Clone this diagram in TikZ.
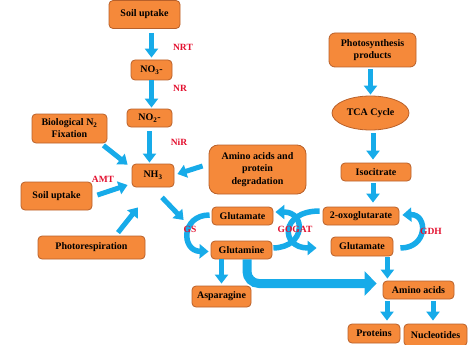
\documentclass[tikz,border=0pt]{standalone}
\usepackage{fontspec}
\setmainfont{Liberation Serif}
\usetikzlibrary{arrows.meta,shapes.geometric,calc}
\definecolor{boxfill}{HTML}{F5893A}
\definecolor{boxline}{HTML}{B8602A}
\definecolor{arrblue}{HTML}{17ABE9}
\definecolor{labred}{HTML}{E3102F}
\begin{document}
\begin{tikzpicture}[x=1pt,y=-1pt,
  box/.style={draw=boxline, fill=boxfill, line width=0.8pt, rounded corners=4pt,
    font=\fontsize{10}{12}\selectfont\bfseries, align=center, inner sep=0pt},
  arr/.style={draw=arrblue, line width=5pt, -{Triangle[length=9pt,width=13pt]}},
  carr/.style={draw=arrblue, line width=5.5pt, -{Triangle[length=9pt,width=14pt]}},
  bigarr/.style={draw=arrblue, line width=9pt, rounded corners=12pt, -{Triangle[length=12pt,width=24pt]}},
  lab/.style={text=labred, font=\fontsize{9.5}{11}\selectfont\bfseries, inner sep=0pt},
]
\useasboundingbox (0,0) rectangle (474,345);
\clip (0,0) rectangle (474,345);

% boxes
\node[box, minimum width=71pt, minimum height=28pt] (su) at (144.5,14.5) {Soil uptake};
\node[box, minimum width=41pt, minimum height=20pt] (no3) at (151.5,70) {NO\textsubscript{3}-};
\node[box, minimum width=45pt, minimum height=18pt] (no2) at (149.5,118) {NO\textsubscript{2}-};
\node[box, minimum width=42pt, minimum height=23pt] (nh3) at (153,175.5) {NH\textsubscript{3}};
\node[box, minimum width=75pt, minimum height=29pt] (bio) at (69.5,128.5) {Biological N\textsubscript{2}\\Fixation};
\node[box, minimum width=71pt, minimum height=28pt] (soilL) at (56.5,196) {Soil uptake};
\node[box, minimum width=107pt, minimum height=23pt] (photo) at (91.5,247.5) {Photorespiration};
\node[box, rounded corners=9pt, minimum width=97pt, minimum height=49pt,
      font=\fontsize{10}{12.5}\selectfont\bfseries] (deg) at (257.5,169.5) {Amino acids and\\protein\\degradation};
\node[box, minimum width=61pt, minimum height=18pt] (gluL) at (242.5,216) {Glutamate};
\node[box, minimum width=61pt, minimum height=18pt] (gluN) at (241.5,250) {Glutamine};
\node[box, minimum width=59pt, minimum height=21pt] (asp) at (221.5,296.5) {Asparagine};
\node[box, rounded corners=6pt, minimum width=87pt, minimum height=34pt] (psp) at (372.5,50) {Photosynthesis\\products};
\node[box, ellipse, minimum width=77pt, minimum height=34pt] (tca) at (370.5,113) {TCA Cycle};
\node[box, minimum width=70pt, minimum height=18pt] (iso) at (376,172) {Isocitrate};
\node[box, minimum width=76pt, minimum height=18pt] (oxo) at (361,216) {2-oxoglutarate};
\node[box, minimum width=62pt, minimum height=19pt] (gluR) at (362,246.5) {Glutamate};
\node[box, minimum width=71pt, minimum height=18pt] (amino) at (418.5,290) {Amino acids};
\node[box, minimum width=52pt, minimum height=19pt] (prot) at (374,333.5) {Proteins};
\node[box, minimum width=63pt, minimum height=22pt] (nuc) at (435.5,335) {Nucleotides};

% straight arrows
\draw[arr, shorten <=4pt, shorten >=2pt] (su.south -| no3.north) -- (no3.north);
\draw[arr, shorten >=1pt] (no3.south) -- (no3.south |- no2.north);
\draw[arr, shorten <=4pt, shorten >=1pt] (no2.south) -- (no2.south |- nh3.north);
\draw[arr] ($(bio.south east)+(-4,2)$) -- ($(nh3.north west)+(-4,1)$);
\draw[arr] ($(soilL.east)+(5,-1)$) -- ($(nh3.west)+(-4,9.5)$);
\draw[arr] ($(photo.north)+(26.5,-3)$) -- ($(nh3.south)+(-15,20)$);
\draw[arr] ($(deg.west)+(-6,-3.5)$) -- ($(nh3.east)+(3,-1.5)$);
\draw[arr] ($(nh3.south)+(9,10)$) -- ($(gluL.west)+(-28,4)$);

% GS, GOGAT, GDH
\draw[carr] ($(gluL.west)+(-2,-1)$) .. controls (181,215) and (181,251) .. ($(gluN.west)+(-2,1.5)$);
\draw[carr] ($(gluN.east)+(1,-2)$) .. controls (306,247) and (306,212) .. ($(gluL.east)+(2,-4)$);
\draw[carr] ($(oxo.west)+(-3,-5)$) .. controls (280,211) and (280,248) .. ($(gluR.west)+(-14,1.5)$);
\draw[carr] ($(gluR.east)+(7,1.5)$) .. controls (428,248) and (428,214) .. ($(oxo.east)+(3,-1)$);

% Glutamine outputs
\draw[arr, shorten >=2pt] (gluN.south -| asp.north) -- (asp.north);
\draw[bigarr] ($(gluN.south)+(5.5,0)$) |- ($(amino.west)+(-6,-6.5)$);

% right column
\draw[arr, shorten <=2pt, shorten >=1pt] (tca.north |- psp.south) -- (tca.north);
\coordinate (ti) at ($(tca.south)+(2.5,0)$);
\draw[arr, shorten <=3pt, shorten >=3pt] (ti) -- (ti |- iso.north);
\coordinate (io) at ($(iso.south)+(-3,0)$);
\draw[arr, shorten <=2pt, shorten >=4pt] (io) -- (io |- oxo.north);
\coordinate (ga) at ($(gluR.south east)+(-6,0)$);
\draw[arr, shorten <=1pt, shorten >=2pt] (ga) -- (ga |- amino.north);
\coordinate (ap) at ($(prot.north)+(13,0)$);
\draw[arr, shorten <=2pt, shorten >=3pt] (ap |- amino.south) -- (ap);
\coordinate (an) at ($(nuc.north)+(-2.5,0)$);
\draw[arr, shorten <=2pt, shorten >=3pt] (an |- amino.south) -- (an);

% labels
\node[lab] (lnrt) at (183,47) {NRT};
\node[lab] (lnr) at (180,88) {NR};
\node[lab] (lnir) at (179,142) {NiR};
\node[lab] (lamt) at (103,179) {AMT};
\node[lab] (lgs) at (190,229) {GS};
\node[lab] (lgogat) at (295,229) {GOGAT};
\node[lab] (lgdh) at (431,231) {GDH};
\end{tikzpicture}
\end{document}
